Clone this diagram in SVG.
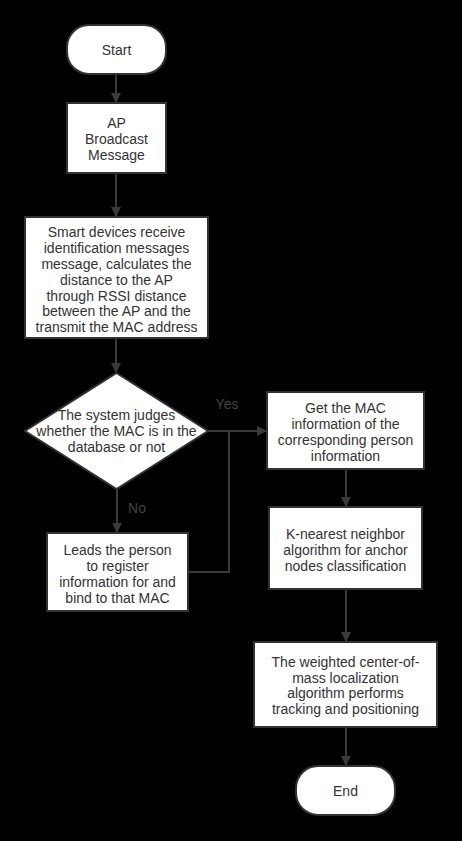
<svg xmlns="http://www.w3.org/2000/svg" width="462" height="841" viewBox="0 0 462 841">
<defs>
<style>
.n{fill:#fff;stroke:#323232;stroke-width:2}
.t{font-family:"Liberation Sans",Arial,sans-serif;font-size:14px;fill:#333;text-anchor:middle}
.c{fill:none;stroke:#3a3a3a;stroke-width:2}
.l{font-family:"Liberation Sans",Arial,sans-serif;font-size:14px;fill:#444;text-anchor:middle}
</style>
<marker id="a" markerWidth="10" markerHeight="10" refX="9" refY="5" orient="auto" markerUnits="userSpaceOnUse">
<path d="M0,0 L10,5 L0,10 Z" fill="#3a3a3a"/>
</marker>
</defs>
<rect width="462" height="841" fill="#000"/>
<g id="connectors">
<path class="c" d="M116,74 V102" marker-end="url(#a)"/>
<path class="c" d="M116,173 V216" marker-end="url(#a)"/>
<path class="c" d="M116,338 V372" marker-end="url(#a)"/>
<path class="c" d="M208,431 H266" marker-end="url(#a)"/>
<path class="c" d="M188,572 H229 V431"/>
<path class="c" d="M117,489 V532" marker-end="url(#a)"/>
<path class="c" d="M346,469 V506" marker-end="url(#a)"/>
<path class="c" d="M346,589 V641" marker-end="url(#a)"/>
<path class="c" d="M346,727 V765" marker-end="url(#a)"/>
<text class="l" x="227" y="409">Yes</text>
<text class="l" x="137" y="513">No</text>
</g>
<g id="start">
<rect class="n" x="67" y="25" width="99" height="49" rx="22"/>
<text class="t" x="116.5" y="55">Start</text>
</g>
<g id="ap">
<rect class="n" x="67" y="103" width="99" height="70"/>
<text class="t" x="116.5" y="128">AP</text>
<text class="t" x="116.5" y="144">Broadcast</text>
<text class="t" x="116.5" y="160">Message</text>
</g>
<g id="smart">
<rect class="n" x="25" y="217" width="183" height="121"/>
<text class="t" x="116.5" y="237">Smart devices receive</text>
<text class="t" x="116.5" y="253">identification messages</text>
<text class="t" x="116.5" y="268.5">message, calculates the</text>
<text class="t" x="116.5" y="284.5">distance to the AP</text>
<text class="t" x="116.5" y="300.5">through RSSI distance</text>
<text class="t" x="116.5" y="316">between the AP and the</text>
<text class="t" x="116.5" y="332">transmit the MAC address</text>
</g>
<g id="decision">
<path class="n" d="M116.5,373 L208,431 L116.5,489 L25,431 Z"/>
<text class="t" x="116.5" y="420">The system judges</text>
<text class="t" x="116.5" y="436">whether the MAC is in the</text>
<text class="t" x="116.5" y="452">database or not</text>
</g>
<g id="register">
<rect class="n" x="47" y="533" width="141" height="78"/>
<text class="t" x="117.5" y="555">Leads the person</text>
<text class="t" x="117.5" y="571">to register</text>
<text class="t" x="117.5" y="587">information for and</text>
<text class="t" x="117.5" y="603">bind to that MAC</text>
</g>
<g id="getmac">
<rect class="n" x="267" y="392" width="157" height="77"/>
<text class="t" x="345.5" y="413">Get the MAC</text>
<text class="t" x="345.5" y="429">information of the</text>
<text class="t" x="345.5" y="445">corresponding person</text>
<text class="t" x="345.5" y="461">information</text>
</g>
<g id="knn">
<rect class="n" x="269" y="507" width="153" height="82"/>
<text class="t" x="345.5" y="539">K-nearest neighbor</text>
<text class="t" x="345.5" y="555">algorithm for anchor</text>
<text class="t" x="345.5" y="571">nodes classification</text>
</g>
<g id="weighted">
<rect class="n" x="254" y="642" width="183" height="85"/>
<text class="t" x="345.5" y="667">The weighted center-of-</text>
<text class="t" x="345.5" y="682.5">mass localization</text>
<text class="t" x="345.5" y="698">algorithm performs</text>
<text class="t" x="345.5" y="714">tracking and positioning</text>
</g>
<g id="end">
<rect class="n" x="296" y="766" width="99" height="49" rx="22"/>
<text class="t" x="345.5" y="795.5">End</text>
</g>
</svg>
